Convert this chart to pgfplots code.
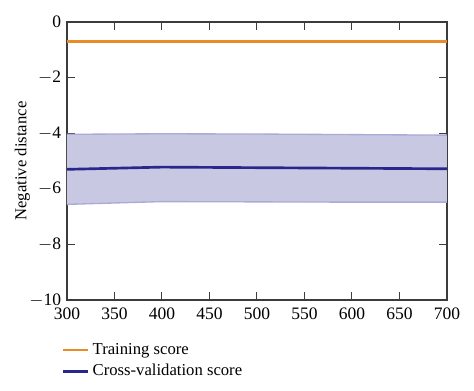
\documentclass[border=0pt]{standalone}
\usepackage{pgfplots}
\pgfplotsset{compat=1.18}
\usepgfplotslibrary{fillbetween}
\usepackage{fontspec}
\setmainfont{Liberation Serif}
\definecolor{trainorange}{RGB}{232,140,40}
\definecolor{cvblue}{RGB}{40,40,140}
\definecolor{bandfill}{RGB}{200,200,226}
\definecolor{bandedge}{RGB}{170,170,215}
\definecolor{axgray}{RGB}{60,60,60}
\begin{document}
\begin{tikzpicture}
\begin{axis}[
  scale only axis,
  width=228pt, height=166.8pt,
  xmin=300, xmax=700, ymin=-10, ymax=0,
  xtick={300,350,...,700}, ytick={0,-2,-4,-6,-8,-10},
  tick align=inside,
  major tick length=5pt,
  axis line style={axgray, line width=0.8pt},
  tick style={axgray, line width=0.6pt},
  ticklabel style={font=\fontsize{10.5}{12}\selectfont},
  xticklabel style={yshift=-1pt},
  /pgf/number format/assume math mode=true,
  yticklabel={\ifdim\tick pt<0pt $-$\pgfmathparse{abs(\tick)}\pgfmathprintnumber{\pgfmathresult}\else\pgfmathprintnumber{\tick}\fi},
  ylabel={Negative distance},
  ylabel style={font=\fontsize{10}{12}\selectfont, at={(axis description cs:-0.082,0.5)}},
  legend style={draw=none, fill=none, at={(axis description cs:-0.028,-0.13)}, anchor=north west,
    font=\fontsize{10}{12}\selectfont, row sep=0.5pt},
  legend cell align=left,
  legend image code/.code={\draw[#1] (0pt,0pt) -- (15pt,0pt);},
]
\addplot[name path=upper, draw=bandedge, line width=0.8pt, forget plot] coordinates {
  (300,-4.04) (400,-4.02) (500,-4.03) (600,-4.05) (700,-4.07)};
\addplot[name path=lower, draw=bandedge, line width=0.8pt, forget plot] coordinates {
  (300,-6.56) (400,-6.46) (500,-6.47) (600,-6.48) (700,-6.48)};
\addplot[bandfill, forget plot] fill between[of=upper and lower];
\addplot[trainorange, line width=1.6pt] coordinates {
  (300,-0.70) (400,-0.70) (500,-0.70) (600,-0.70) (700,-0.70)};
\addlegendentry{Training score}
\addplot[cvblue, line width=1.6pt] coordinates {
  (300,-5.30) (400,-5.22) (500,-5.24) (600,-5.26) (700,-5.28)};
\addlegendentry{Cross-validation score}
\end{axis}
\useasboundingbox (-40.2pt,-54pt) rectangle (244.2pt,180pt);
\end{tikzpicture}
\end{document}
